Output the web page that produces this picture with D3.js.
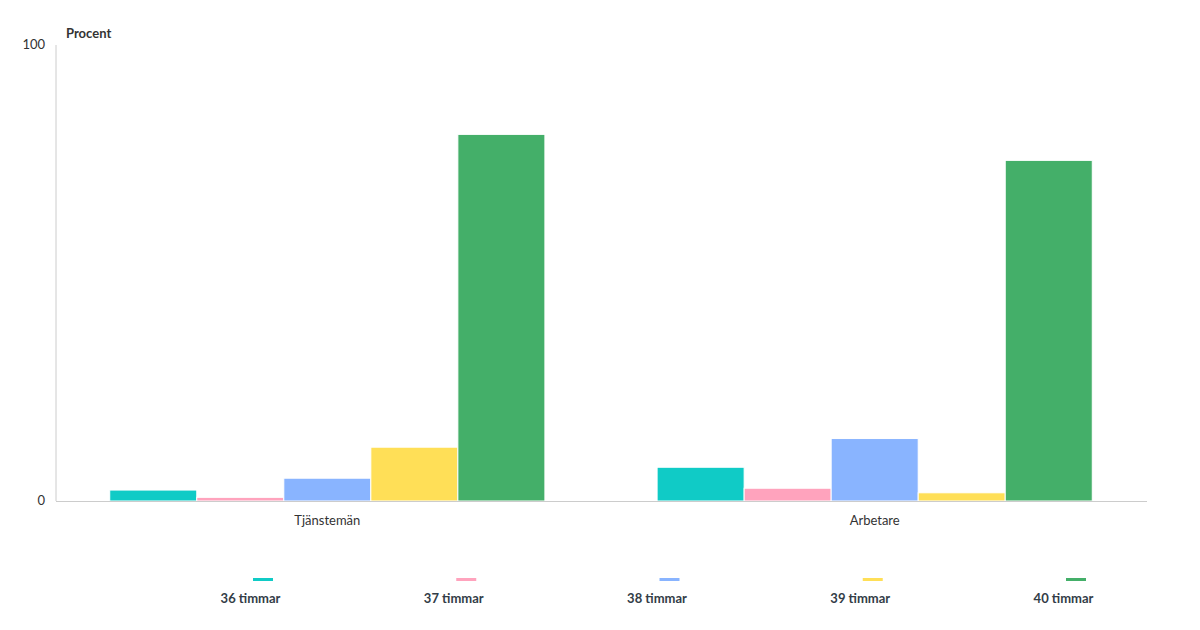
<!DOCTYPE html>
<html>
<head>
<meta charset="utf-8">
<script src="https://cdn.jsdelivr.net/npm/d3@7"></script>
<style>
  html, body { margin: 0; padding: 0; background: #fff; }
  svg text { font-family: Lato, "Open Sans", sans-serif; }
</style>
</head>
<body>
<div id="chart"></div>
<script>
const categories = ["Tjänstemän", "Arbetare"];
const seriesNames = ["36 timmar", "37 timmar", "38 timmar", "39 timmar", "40 timmar"];
const seriesColors = ["#10cbc6", "#ffa3bd", "#89b4ff", "#ffdf57", "#44af69"];
// percent per category, in series order
const valuesTjanstemän = [2.4, 0.8, 5.0, 11.8, 80.4];
const valuesArbetare = [7.4, 2.8, 13.7, 1.8, 74.7];
const yTicks = [0, 100];

const data = [valuesTjanstemän, valuesArbetare];

const W = 1200, H = 630;
const margin = { top: 45, right: 53, bottom: 129, left: 56 };

const svg = d3.select("#chart").append("svg")
    .attr("width", W)
    .attr("height", H);

const x0 = d3.scaleBand()
    .domain(categories)
    .range([margin.left - 1, W - margin.right])
    .paddingInner(0.205)
    .paddingOuter(0.1);

const x1 = d3.scaleBand()
    .domain(seriesNames)
    .range([0, x0.bandwidth()]);

const y = d3.scaleLinear()
    .domain([0, 100])
    .range([H - margin.bottom, margin.top]);

// axis lines
svg.append("line")
    .attr("x1", margin.left).attr("x2", margin.left)
    .attr("y1", y(100)).attr("y2", y(0))
    .attr("stroke", "#ccc").attr("stroke-width", 1);

// tick labels
svg.selectAll("text.ytick")
    .data(yTicks)
    .enter().append("text")
    .attr("class", "ytick")
    .attr("x", margin.left - 11)
    .attr("y", d => y(d) + 4)
    .attr("text-anchor", "end")
    .style("font-size", "13px")
    .style("fill", "#333")
    .text(d => d);

svg.append("text")
    .attr("x", margin.left + 10)
    .attr("y", 38)
    .style("font-size", "13px")
    .style("font-weight", "bold")
    .style("fill", "#333")
    .text("Procent");

// bars
const groups = svg.selectAll("g.group")
    .data(categories)
    .enter().append("g")
    .attr("class", "group")
    .attr("transform", d => `translate(${x0(d)},0)`);

groups.selectAll("rect")
    .data((c, i) => data[i].map((v, j) => ({ s: seriesNames[j], v: v, c: seriesColors[j] })))
    .enter().append("rect")
    .attr("x", d => x1(d.s))
    .attr("width", x1.bandwidth())
    .attr("y", d => y(d.v))
    .attr("height", d => y(0) - y(d.v))
    .attr("fill", d => d.c)
    .attr("stroke", "#fff")
    .attr("stroke-width", 1);

svg.append("line")
    .attr("x1", margin.left).attr("x2", W - margin.right)
    .attr("y1", y(0) + 0.5).attr("y2", y(0) + 0.5)
    .attr("stroke", "#ccc").attr("stroke-width", 1);

// category labels
svg.selectAll("text.cat")
    .data(categories)
    .enter().append("text")
    .attr("class", "cat")
    .attr("x", d => x0(d) + x0.bandwidth() / 2)
    .attr("y", y(0) + 24)
    .attr("text-anchor", "middle")
    .style("font-size", "13px")
    .style("fill", "#333")
    .text(d => d);

// legend
const lx = d3.scalePoint()
    .domain(seriesNames)
    .range([263, 1076]);

const legend = svg.selectAll("g.legend")
    .data(seriesNames)
    .enter().append("g")
    .attr("class", "legend")
    .attr("transform", d => `translate(${lx(d)},0)`);

legend.append("line")
    .attr("x1", -10).attr("x2", 10)
    .attr("y1", 579.5).attr("y2", 579.5)
    .attr("stroke", (d, i) => seriesColors[i])
    .attr("stroke-width", 3);

legend.append("text")
    .attr("x", -12.5)
    .attr("y", 603)
    .attr("text-anchor", "middle")
    .style("font-size", "13px")
    .style("font-weight", "bold")
    .style("fill", "#333d47")
    .text(d => d);
</script>
</body>
</html>
